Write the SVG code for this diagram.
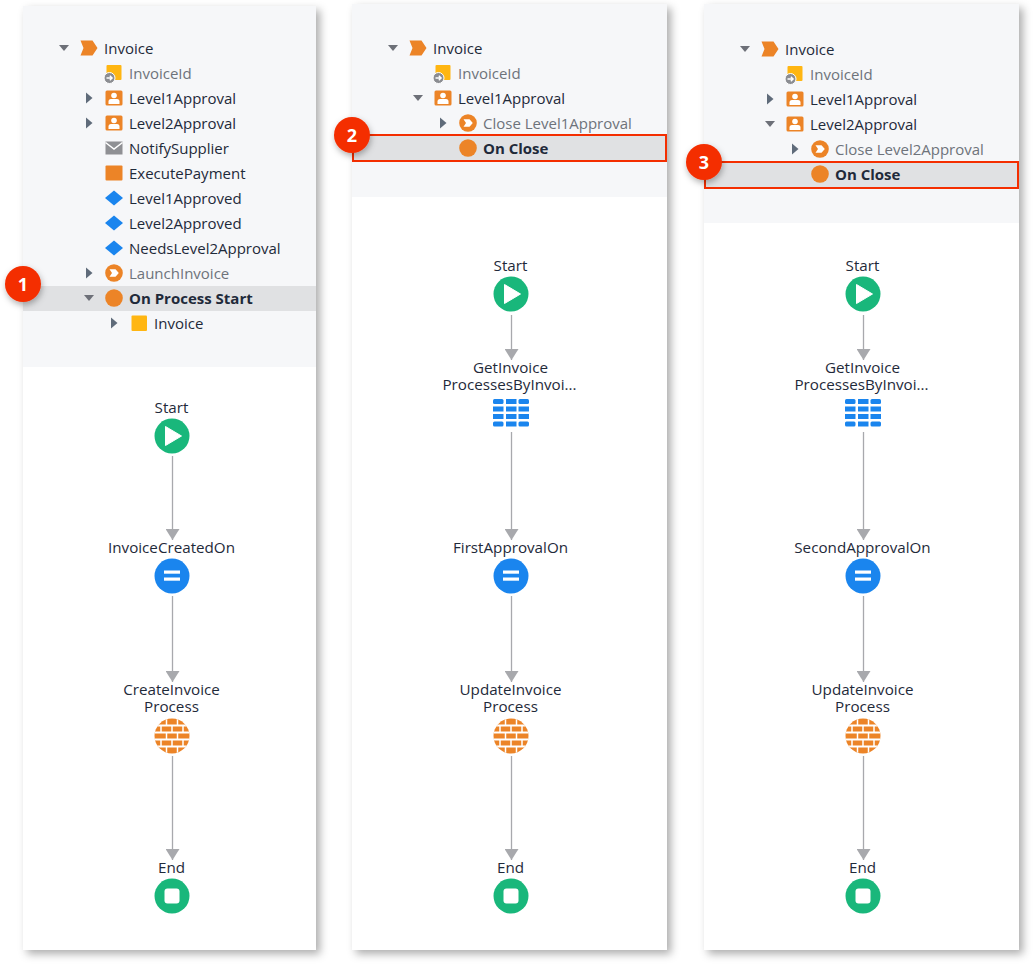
<svg xmlns="http://www.w3.org/2000/svg" width="1034" height="965" viewBox="0 0 1034 965">
<style>
text{font-family:"Open Sans","Noto Sans","DejaVu Sans",sans-serif;font-size:15px;fill:#1f2a3a}
.dim{fill:#6e737b}
.b{font-weight:700}
.m{text-anchor:middle;font-size:15.2px}
.num{font-weight:700;font-size:18px;fill:#fff;text-anchor:middle}
.flow{stroke:#a8a9ad;stroke-width:1.3;fill:none}
.tri{fill:#5f6b7a}
</style>
<defs>
<filter id="sh" x="-10%" y="-5%" width="125%" height="110%"><feDropShadow dx="4" dy="4" stdDeviation="4" flood-color="#000" flood-opacity=".32"/></filter>
<filter id="bs" x="-40%" y="-40%" width="180%" height="180%"><feDropShadow dx="1" dy="3" stdDeviation="3" flood-color="#000" flood-opacity=".3"/></filter>
<marker id="arr" markerUnits="userSpaceOnUse" markerWidth="11" markerHeight="14" refX="11" refY="7" orient="auto"><path d="M0 0L11 7L0 14Z" fill="#a8a9ad"/></marker>
<g id="tR"><path d="M-3 -5.500L3.500 0L-3 5.500Z" class="tri"/></g>
<g id="tD"><path d="M-5 -3L5 -3L0 3Z" fill="#6d7078"/></g>
<g id="iProc"><path d="M-8.500 -7.500H3.500L8.500 0L3.500 7.500H-8.500L-5.500 0Z" fill="#ec8427"/></g>
<g id="iVar"><rect x="-6.500" y="-8" width="15" height="15" rx="1" fill="#ffb612"/><circle cx="-3.500" cy="5" r="5.500" fill="#8b8d92" stroke="#fff"/><path d="M-6.500 5H-0.800M-3.200 2.700L-0.800 5L-3.200 7.300" stroke="#fff" stroke-width="1.300" fill="none"/></g>
<g id="iHum"><rect x="-8.500" y="-7.500" width="17" height="15" rx="1.500" fill="#ec8427"/><circle cx="0" cy="-2.500" r="2.800" fill="#fff"/><path d="M-5.500 6V3.500Q-5.500 1 -3 1H3Q5.500 1 5.500 3.500V6Z" fill="#fff"/></g>
<g id="iMail"><rect x="-8.500" y="-6.500" width="17" height="13" fill="#8f9094"/><path d="M-8.500 -5.500L0 1L8.500 -5.500" stroke="#fff" stroke-width="1.500" fill="none"/></g>
<g id="iSq"><rect x="-8.500" y="-7.500" width="17" height="15" rx="1" fill="#ec8427"/></g>
<g id="iY"><rect x="-7.500" y="-7.500" width="15.500" height="15.500" rx="1" fill="#ffb612"/></g>
<g id="iDia"><path d="M0 -7.500L9 0L0 7.500L-9 0Z" fill="#1a85ee"/></g>
<g id="iLaunch"><circle r="8.800" fill="#ec8427"/><path d="M-4.500 -3.800H1.500L4.800 0L1.500 3.800H-4.500L-2 0Z" fill="#fff"/></g>
<g id="iDot"><circle r="8.800" fill="#ec8427"/></g>
<g id="nStart"><circle r="17.500" fill="#19b77b"/><path d="M-6.500 -9.500L9.500 0L-6.500 9.500Z" fill="#fff" stroke="#fff" stroke-linejoin="round"/></g>
<g id="nEnd"><circle r="17.500" fill="#19b77b"/><rect x="-7.500" y="-7.500" width="15" height="15" rx="3" fill="#fff"/></g>
<g id="nAssign"><circle r="17.500" fill="#1a85ee"/><rect x="-8" y="-5.500" width="16" height="3.200" fill="#fff"/><rect x="-8" y="1.500" width="16" height="3.200" fill="#fff"/></g>
<g id="nTable"><g fill="#1a85ee"><rect x="-18" y="-14" width="10.500" height="5" rx="1.500"/><rect x="-5" y="-14" width="10.500" height="5"/><rect x="7.500" y="-14" width="10.500" height="5" rx="1.500"/><rect x="-18" y="-6.500" width="10.500" height="5"/><rect x="-5" y="-6.500" width="10.500" height="5"/><rect x="7.500" y="-6.500" width="10.500" height="5"/><rect x="-18" y="1" width="10.500" height="5"/><rect x="-5" y="1" width="10.500" height="5"/><rect x="7.500" y="1" width="10.500" height="5"/><rect x="-18" y="8.500" width="10.500" height="5" rx="1.500"/><rect x="-5" y="8.500" width="10.500" height="5"/><rect x="7.500" y="8.500" width="10.500" height="5" rx="1.500"/></g></g>
<clipPath id="cc"><circle r="17.500"/></clipPath>
<g id="nWeb"><g clip-path="url(#cc)"><rect x="-18" y="-18" width="36" height="36" fill="#ec8427"/><path d="M-18 -10.500H18M-18 -3.500H18M-18 3.500H18M-18 10.500H18" stroke="#fff" stroke-width="2"/><path d="M-5.500 -18V-10.500M5.500 -18V-10.500M0 -10.500V-3.500M-11 -10.500V-3.500M11 -10.500V-3.500M-5.500 -3.500V3.500M5.500 -3.500V3.500M0 3.500V10.500M-11 3.500V10.500M11 3.500V10.500M-5.500 10.500V18M5.500 10.500V18" stroke="#fff" stroke-width="1.500"/></g></g>
</defs>

<g id="panel-1">
<rect x="23" y="6" width="293" height="944" fill="#fff" filter="url(#sh)"/>
<rect x="23" y="6" width="293" height="361" fill="#f6f7f9"/>
<rect x="23" y="286" width="293" height="25" fill="#e0e1e3"/>
</g>
<g id="panel-2">
<rect x="352" y="4" width="315" height="946" fill="#fff" filter="url(#sh)"/>
<rect x="352" y="4" width="315" height="193" fill="#f6f7f9"/>
<rect x="353" y="135" width="313" height="26" fill="#e0e1e3" stroke="#f42e00" stroke-width="2"/>
</g>
<g id="panel-3">
<rect x="704" y="4" width="315" height="946" fill="#fff" filter="url(#sh)"/>
<rect x="704" y="4" width="315" height="219" fill="#f6f7f9"/>
<rect x="705" y="162" width="313" height="26" fill="#e0e1e3" stroke="#f42e00" stroke-width="2"/>
</g>

<g id="tree-1">
<use href="#tD" x="64" y="48"/><use href="#iProc" x="89" y="48"/><text x="104" y="54">Invoice</text>
<use href="#iVar" x="113" y="73"/><text x="129" y="79" class="dim">InvoiceId</text>
<use href="#tR" x="89" y="98"/><use href="#iHum" x="114" y="98"/><text x="129" y="104">Level1Approval</text>
<use href="#tR" x="89" y="123"/><use href="#iHum" x="114" y="123"/><text x="129" y="129">Level2Approval</text>
<use href="#iMail" x="114" y="148"/><text x="129" y="154">NotifySupplier</text>
<use href="#iSq" x="114" y="173"/><text x="129" y="179">ExecutePayment</text>
<use href="#iDia" x="114" y="198"/><text x="129" y="204">Level1Approved</text>
<use href="#iDia" x="114" y="223"/><text x="129" y="229">Level2Approved</text>
<use href="#iDia" x="114" y="248"/><text x="129" y="254">NeedsLevel2Approval</text>
<use href="#tR" x="89" y="273"/><use href="#iLaunch" x="114" y="273"/><text x="129" y="279" class="dim">LaunchInvoice</text>
<use href="#tD" x="89" y="298"/><use href="#iDot" x="114" y="298"/><text x="129" y="304" class="b">On Process Start</text>
<use href="#tR" x="114" y="323"/><use href="#iY" x="139" y="323"/><text x="154" y="329">Invoice</text>
</g>
<g id="tree-2">
<use href="#tD" x="393" y="48"/><use href="#iProc" x="418" y="48"/><text x="433" y="54">Invoice</text>
<use href="#iVar" x="442" y="73"/><text x="458" y="79" class="dim">InvoiceId</text>
<use href="#tD" x="418" y="98"/><use href="#iHum" x="443" y="98"/><text x="458" y="104">Level1Approval</text>
<use href="#tR" x="443" y="123"/><use href="#iLaunch" x="468" y="123"/><text x="483" y="129" class="dim">Close Level1Approval</text>
<use href="#iDot" x="468" y="148"/><text x="483" y="154" class="b">On Close</text>
</g>
<g id="tree-3">
<use href="#tD" x="745" y="49"/><use href="#iProc" x="770" y="49"/><text x="785" y="55">Invoice</text>
<use href="#iVar" x="794" y="74"/><text x="810" y="80" class="dim">InvoiceId</text>
<use href="#tR" x="770" y="99"/><use href="#iHum" x="795" y="99"/><text x="810" y="105">Level1Approval</text>
<use href="#tD" x="770" y="124"/><use href="#iHum" x="795" y="124"/><text x="810" y="130">Level2Approval</text>
<use href="#tR" x="795" y="149"/><use href="#iLaunch" x="820" y="149"/><text x="835" y="155" class="dim">Close Level2Approval</text>
<use href="#iDot" x="820" y="174"/><text x="835" y="180" class="b">On Close</text>
</g>

<g id="connectors">
<path class="flow" marker-end="url(#arr)" d="M172.500 456V540"/>
<path class="flow" marker-end="url(#arr)" d="M172.500 596V682"/>
<path class="flow" marker-end="url(#arr)" d="M172.500 756V860"/>
<path class="flow" marker-end="url(#arr)" d="M511.500 315V360"/>
<path class="flow" marker-end="url(#arr)" d="M511.500 432V540"/>
<path class="flow" marker-end="url(#arr)" d="M511.500 596V682"/>
<path class="flow" marker-end="url(#arr)" d="M511.500 756V860"/>
<path class="flow" marker-end="url(#arr)" d="M863.500 315V360"/>
<path class="flow" marker-end="url(#arr)" d="M863.500 432V540"/>
<path class="flow" marker-end="url(#arr)" d="M863.500 596V682"/>
<path class="flow" marker-end="url(#arr)" d="M863.500 756V860"/>
</g>

<g id="flow1-start"><text x="171.500" y="413" class="m">Start</text><use href="#nStart" x="172" y="436"/></g>
<g id="flow1-assign"><text x="171.500" y="553" class="m">InvoiceCreatedOn</text><use href="#nAssign" x="172" y="576"/></g>
<g id="flow1-exec"><text class="m"><tspan x="171.500" y="695">CreateInvoice</tspan><tspan x="171.500" y="712">Process</tspan></text><use href="#nWeb" x="172" y="736"/></g>
<g id="flow1-end"><text x="171.500" y="873" class="m">End</text><use href="#nEnd" x="172" y="896"/></g>

<g id="flow2-start"><text x="510.500" y="271" class="m">Start</text><use href="#nStart" x="511" y="294"/></g>
<g id="flow2-agg"><text class="m"><tspan x="510.500" y="373">GetInvoice</tspan><tspan x="509.500" y="390">ProcessesByInvoi...</tspan></text><use href="#nTable" x="511" y="413"/></g>
<g id="flow2-assign"><text x="510.500" y="553" class="m">FirstApprovalOn</text><use href="#nAssign" x="511" y="576"/></g>
<g id="flow2-exec"><text class="m"><tspan x="510.500" y="695">UpdateInvoice</tspan><tspan x="510.500" y="712">Process</tspan></text><use href="#nWeb" x="511" y="736"/></g>
<g id="flow2-end"><text x="510.500" y="873" class="m">End</text><use href="#nEnd" x="511" y="896"/></g>

<g id="flow3-start"><text x="862.500" y="271" class="m">Start</text><use href="#nStart" x="863" y="294"/></g>
<g id="flow3-agg"><text class="m"><tspan x="862.500" y="373">GetInvoice</tspan><tspan x="861.500" y="390">ProcessesByInvoi...</tspan></text><use href="#nTable" x="863" y="413"/></g>
<g id="flow3-assign"><text x="862.500" y="553" class="m">SecondApprovalOn</text><use href="#nAssign" x="863" y="576"/></g>
<g id="flow3-exec"><text class="m"><tspan x="862.500" y="695">UpdateInvoice</tspan><tspan x="862.500" y="712">Process</tspan></text><use href="#nWeb" x="863" y="736"/></g>
<g id="flow3-end"><text x="862.500" y="873" class="m">End</text><use href="#nEnd" x="863" y="896"/></g>

<g id="badge-1"><circle cx="23" cy="284" r="18" fill="#f42e00" filter="url(#bs)"/><text x="23" y="291" class="num">1</text></g>
<g id="badge-2"><circle cx="352" cy="135" r="18" fill="#f42e00" filter="url(#bs)"/><text x="352" y="142" class="num">2</text></g>
<g id="badge-3"><circle cx="704" cy="162" r="18" fill="#f42e00" filter="url(#bs)"/><text x="704" y="169" class="num">3</text></g>
</svg>
